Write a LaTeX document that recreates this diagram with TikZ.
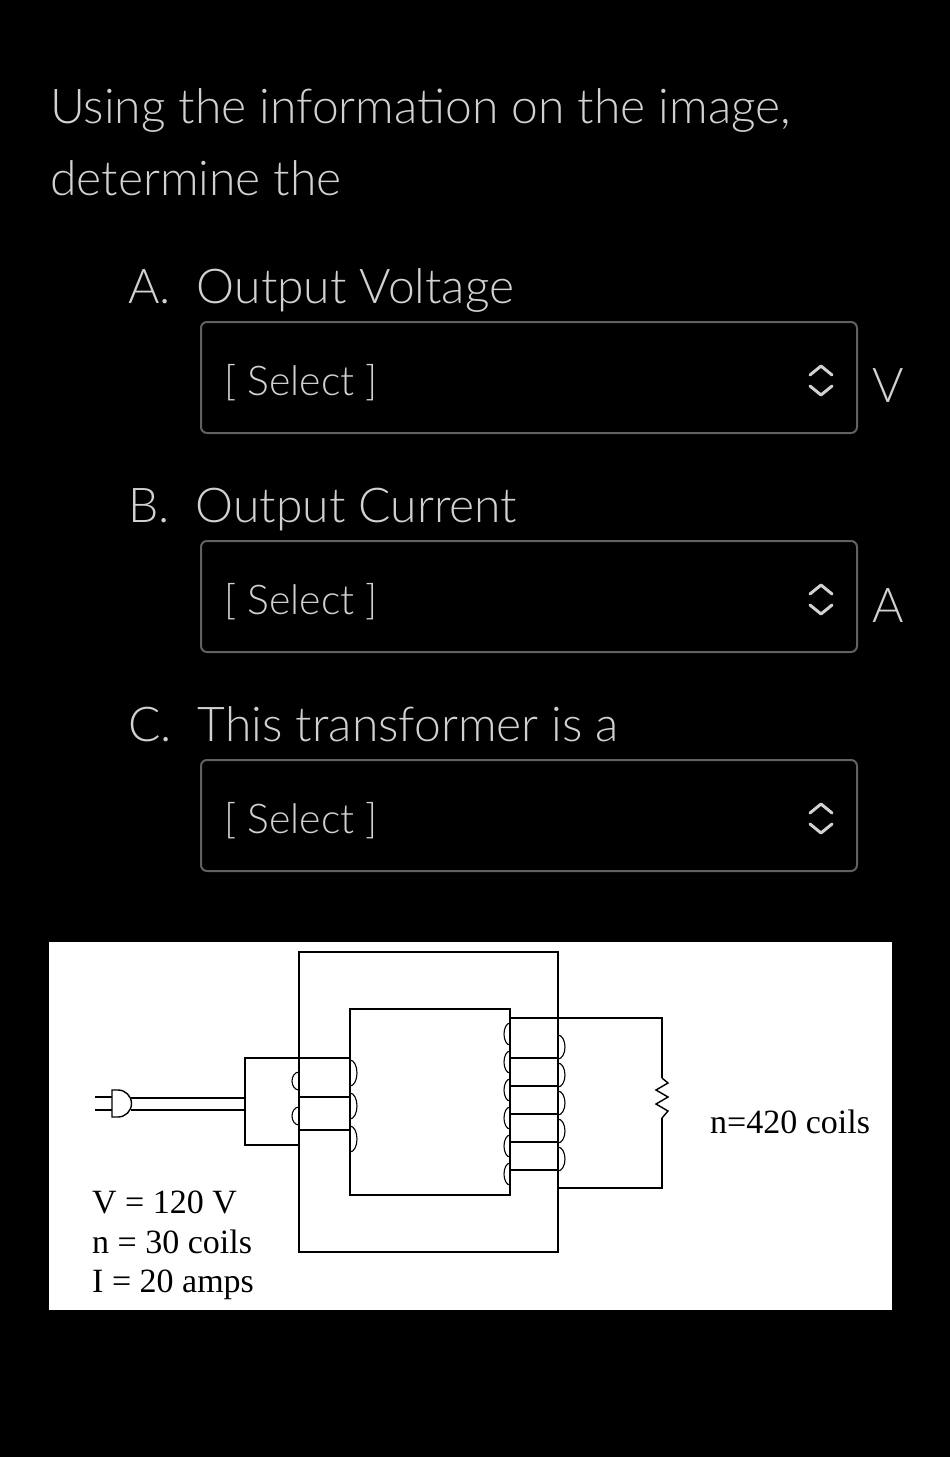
\documentclass[tikz,border=0pt]{standalone}
\usepackage{fontspec}
\setmainfont{Lato Light}
\newfontfamily\tnr{Liberation Serif}
\begin{document}
\begin{tikzpicture}[x=1pt,y=-1pt,
  ui/.style={text=black!18,font=\fontsize{48}{52}\selectfont,anchor=base west,inner sep=0},
  sel/.style={draw=black!62,line width=2pt,rounded corners=6pt},
  seltxt/.style={text=black!18,font=\fontsize{41}{44}\selectfont,anchor=base west,inner sep=0},
  wire/.style={line width=1.6pt,black},
  coil/.style={line width=1.1pt,black},
  lab/.style={font=\tnr\fontsize{34}{36}\selectfont,inner sep=0,anchor=base west}]
\fill[black] (0,0) rectangle (950,1457);
\useasboundingbox (0,0) rectangle (950,1457);
\node[ui] (t1) at (50,123) {Using the information on the image,};
\node[ui] (t2) at (50,195) {determine the};
\node[ui] (qa) at (128,303) {A.\ \ Output Voltage};
\node[ui] (qb) at (128,522) {B.\ \ Output Current};
\node[ui] (qc) at (128,741) {C.\ \ This transformer is a};
\foreach \y/\n in {322/a,541/b,760/c}{
  \draw[sel] (201,\y) rectangle (857,\y+111);
  \node[seltxt] (s\n) at (224,\y+73) {[ Select ]};
  \draw[black!18,line width=3pt,line cap=round,line join=round]
    (810,\y+53) -- (821,\y+44) -- (832,\y+53)
    (810,\y+64) -- (821,\y+73) -- (832,\y+64);
}
\node[ui] (uv) at (872,402) {V};
\node[ui] (ua) at (872,622) {A};
% figure
\fill[white] (49,942) rectangle (892,1310);
\draw[wire] (299,952) rectangle (558,1252);
\draw[wire] (350,1009) rectangle (510,1195);
% plug
\draw[line width=1.4pt] (95,1097) -- (112,1097) (95,1110) -- (112,1110);
\draw[line width=1.4pt] (112,1090) -- (118,1090) arc[start angle=-90,end angle=90,radius=13.5] -- (112,1117) -- cycle;
\draw[wire] (131,1098) -- (245,1098) (131,1110) -- (245,1110);
% primary
\draw[wire] (350,1058) -- (245,1058) -- (245,1145) -- (299,1145);
\draw[wire] (299,1097) -- (350,1097) (299,1130) -- (350,1130);
\foreach \y in {1072,1107}{\draw[coil] (299,\y) arc[start angle=-90,end angle=-270,x radius=7,y radius=9];}
\foreach \y in {1060,1093,1126}{\draw[coil] (350,\y) arc[start angle=-90,end angle=90,x radius=7,y radius=13];}
% secondary
\foreach \y in {1023,1051,1079,1107,1135,1163}{\draw[coil] (510,\y) arc[start angle=-90,end angle=-270,x radius=6,y radius=11];}
\foreach \y in {1035,1063,1091,1119,1147}{\draw[coil] (558,\y) arc[start angle=-90,end angle=90,x radius=7,y radius=12];}
\draw[wire] (510,1058) -- (558,1058) (510,1086) -- (558,1086) (510,1114) -- (558,1114) (510,1142) -- (558,1142) (510,1170) -- (558,1170);
\coordinate (r1) at (662,1078);
\coordinate (r2) at (662,1118);
\draw[wire] (510,1018) -- (662,1018) -- (r1);
\draw[line width=1.4pt] (r1) -- (668,1083) -- (656,1090) -- (668,1097) -- (656,1104) -- (668,1111) -- (r2);
\draw[wire] (r2) -- (662,1188) -- (558,1188);
\node[lab] (n2) at (710,1133) {n=420 coils};
\node[lab] (l1) at (92,1213) {V = 120 V};
\node[lab] (l2) at (92,1253) {n = 30 coils};
\node[lab] (l3) at (92,1292) {I = 20 amps};
\end{tikzpicture}
\end{document}
